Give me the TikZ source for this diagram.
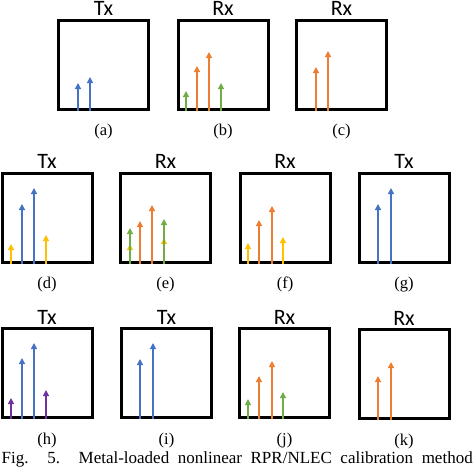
\documentclass[tikz,border=0pt]{standalone}
\usepackage{fontspec}
\setmainfont{Liberation Serif}
\newfontfamily\titlefont{Carlito}
\usetikzlibrary{arrows.meta, positioning}
\definecolor{spblue}{HTML}{4472C4}
\definecolor{sporange}{HTML}{ED7D31}
\definecolor{spgreen}{HTML}{70AD47}
\definecolor{spyellow}{HTML}{FFC000}
\definecolor{sppurple}{HTML}{7030A0}
\tikzset{
    panel/.style={draw, line width=3pt, minimum width=90pt, minimum height=89pt, inner sep=0pt},
    ptitle/.style={font=\titlefont\fontsize{22}{22}\selectfont, inner sep=0pt, anchor=base},
    plabel/.style={font=\fontsize{16.5}{16.5}\selectfont, inner sep=0pt, anchor=base},
    caption/.style={font=\fontsize{17}{18}\selectfont, inner sep=0pt, anchor=base west},
    spike/.style={-{Triangle[width=6pt, length=6pt]}, line width=1.3pt},
}
% one framed panel with its title above and its letter below
\newcommand{\Panel}[5]{%
  \node[panel] (#1) at (#2,#3) {};
  \node[ptitle] (#1t) at ([yshift=3pt]#1.north) {#4};
  \node[plabel] (#1l) at ([yshift=-25pt]#1.south) {(#5)};
}
\begin{document}
\begin{tikzpicture}[x=1pt, y=-1pt]
    \useasboundingbox (0,0) rectangle (474,467);

    % first row
    \Panel{pa}{103.5}{64.5}{Tx}{a}
    \Panel{pb}{223}{64.5}{Rx}{b}
    \Panel{pc}{341.5}{64.5}{Rx}{c}

    % second row
    \Panel{pd}{47}{217.5}{Tx}{d}
    \Panel{pe}{165.5}{217.5}{Rx}{e}
    \Panel{pf}{285}{217.5}{Rx}{f}
    \Panel{pg}{404}{217.5}{Tx}{g}

    % third row
    \Panel{ph}{47}{373}{Tx}{h}
    \Panel{pi}{166.5}{373}{Tx}{i}
    \Panel{pj}{284.5}{373}{Rx}{j}
    \Panel{pk}{404}{374}{Rx}{k}

    % spectral lines: panel / x / tip / colour
    \foreach \p/\x/\h/\c in {
        pa/78/83/spblue, pa/90/77/spblue,
        pb/186/91/spgreen, pb/197/66/sporange, pb/209/52/sporange, pb/221/83/spgreen,
        pc/316/67/sporange, pc/328/51/sporange,
        pd/11/244/spyellow, pd/22/204/spblue, pd/34/188/spblue, pd/46/235/spyellow,
        pe/130/244/spyellow, pe/130/228/spgreen, pe/140/221/sporange,
        pe/152/205/sporange, pe/164/238/spyellow, pe/164/219/spgreen,
        pf/248/243/spyellow, pf/259/220/sporange, pf/272/206/sporange, pf/283/237/spyellow,
        pg/378/204/spblue, pg/391/188/spblue,
        ph/11/398/sppurple, ph/22/358/spblue, ph/34/343/spblue, ph/46/390/sppurple,
        pi/140/359/spblue, pi/153/343/spblue,
        pj/248/399/spgreen, pj/259/376/sporange, pj/272/361/sporange, pj/283/392/spgreen,
        pk/378/376/sporange, pk/391/362/sporange}
      \draw[spike, \c] (\x,0 |- \p.south) -- (\x,\h);

    \node[caption] (cap) at (1.5,463) {\makebox[471pt][s]{Fig. 5. Metal-loaded nonlinear RPR/NLEC calibration method}};
\end{tikzpicture}
\end{document}
